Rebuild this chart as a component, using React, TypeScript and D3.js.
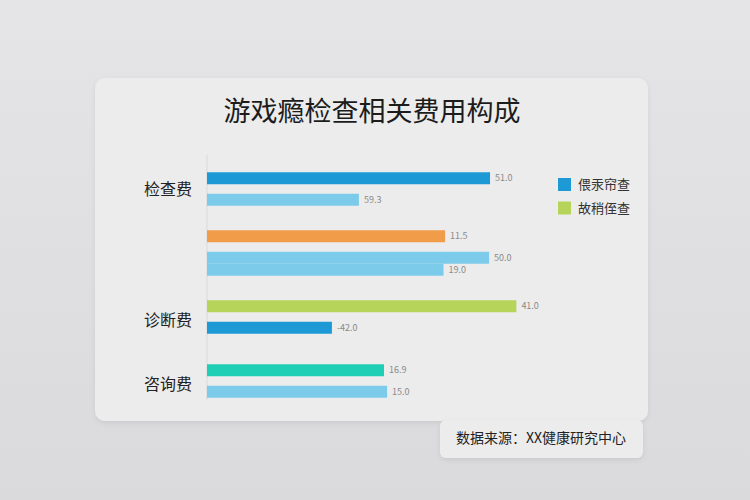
import React from "react";
import * as d3 from "d3";

const title = "游戏瘾检查相关费用构成";
const categories = ["检查费", "", "诊断费", "咨询费"];
// bar lengths (relative units), grouped by category
const group1Values = [91.3, 49.0];
const group2Values = [76.8, 91.0, 76.3];
const group3Values = [99.8, 40.3];
const group4Values = [57.1, 58.1];
const group1Labels = ["51.0", "59.3"];
const group2Labels = ["11.5", "50.0", "19.0"];
const group3Labels = ["41.0", "-42.0"];
const group4Labels = ["16.9", "15.0"];
const group1Colors = ["#1d9ad6", "#7dcbea"];
const group2Colors = ["#f09c48", "#7dcbea", "#7dcbea"];
const group3Colors = ["#b6d35a", "#1d9ad6"];
const group4Colors = ["#1fcfb5", "#7dcbea"];
const legendNames = ["偎汞帘查", "故稍侄查"];
const legendColors = ["#1d9ad6", "#b6d35a"];
const sourceText = "数据来源：XX健康研究中心";

const W = 750;
const H = 500;
const FONT = "'Noto Sans CJK SC', 'Noto Sans', sans-serif";

export default function App() {
  const groups = [
    { values: group1Values, labels: group1Labels, colors: group1Colors },
    { values: group2Values, labels: group2Labels, colors: group2Colors },
    { values: group3Values, labels: group3Labels, colors: group3Colors },
    { values: group4Values, labels: group4Labels, colors: group4Colors },
  ];
  const x = d3.scaleLinear().domain([0, 100]).range([207, 517]);
  const y = d3
    .scaleBand<number>()
    .domain(d3.range(categories.length))
    .range([157, 413])
    .padding(0);
  const barH = 12;
  const gap = 9.5;

  const bars: any[] = [];
  groups.forEach((g, gi) => {
    // first two bars spaced, further bars abut the previous one
    const offsets: number[] = [];
    let cur = 0;
    g.values.forEach((_, i) => {
      if (i === 0) cur = 0;
      else if (i === 1) cur += barH + gap;
      else cur += barH;
      offsets.push(cur);
    });
    const total = offsets[offsets.length - 1] + barH;
    const top = (y(gi) as number) + y.bandwidth() / 2 - total / 2;
    g.values.forEach((v, i) => {
      bars.push({
        y: top + offsets[i],
        w: x(v) - x(0),
        color: g.colors[i],
        label: g.labels[i],
        key: `${gi}-${i}`,
      });
    });
  });

  return (
    <div style={{ position: "fixed", left: 0, top: 0, width: W, height: H }}>
      <svg width={W} height={H} style={{ display: "block" }}>
        <defs>
          <linearGradient id="bg" x1="0" y1="0" x2="0" y2="1">
            <stop offset="0" stopColor="#e5e5e7" />
            <stop offset="1" stopColor="#dadadc" />
          </linearGradient>
          <filter id="sh" x="-10%" y="-10%" width="120%" height="130%">
            <feDropShadow dx="0" dy="2" stdDeviation="2.5" floodColor="#000" floodOpacity="0.08" />
          </filter>
        </defs>
        <rect x={0} y={0} width={W} height={H} fill="url(#bg)" />
        <rect x={95} y={78} width={553} height={343} rx={10} fill="#ececec" filter="url(#sh)" />
        <text
          x={372}
          y={121}
          textAnchor="middle"
          fontFamily={FONT}
          fontSize={27}
          fontWeight={400}
          fill="#1c1c1c"
        >
          {title}
        </text>
        <line x1={x(0)} x2={x(0)} y1={155} y2={400} stroke="#d9d9d9" strokeWidth={1} />
        {categories.map((c, i) => (
          <text
            key={i}
            x={192}
            y={(y(i) as number) + y.bandwidth() / 2 + 6 + (i >= 2 ? 3 : 0)}
            textAnchor="end"
            fontFamily={FONT}
            fontSize={16}
            fill="#222"
          >
            {c}
          </text>
        ))}
        {bars.map((b) => (
          <g key={b.key}>
            <rect x={x(0)} y={b.y} width={b.w} height={barH} fill={b.color} />
            <text
              x={x(0) + b.w + 5}
              y={b.y + barH / 2 + 3}
              fontFamily={FONT}
              fontSize={9}
              fill="#8a8a8a"
            >
              {b.label}
            </text>
          </g>
        ))}
        {legendNames.map((n, i) => (
          <g key={n} transform={`translate(558, ${178 + i * 23.5})`}>
            <rect x={0} y={0} width={13} height={13} fill={legendColors[i]} />
            <text x={20} y={11} fontFamily={FONT} fontSize={13} fill="#333">
              {n}
            </text>
          </g>
        ))}
        <rect x={440} y={420} width={203} height={38} rx={6} fill="#ececec" filter="url(#sh)" />
        <text x={456} y={443} fontFamily={FONT} fontSize={14} fill="#222">
          {sourceText}
        </text>
      </svg>
    </div>
  );
}
